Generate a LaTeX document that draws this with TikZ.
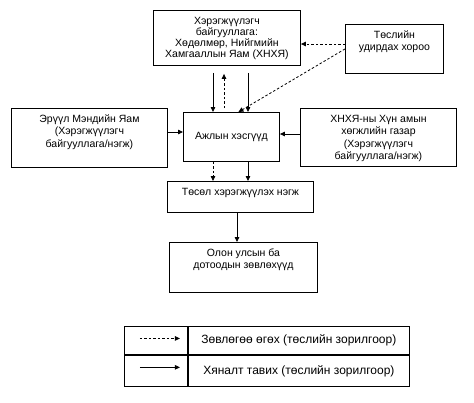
\documentclass[tikz,border=0pt]{standalone}
\usepackage{fontspec}
\setmainfont{Liberation Sans}
\usetikzlibrary{arrows.meta,calc}

\tikzset{
  unitbox/.style={draw,line width=0.9pt,inner sep=0pt,anchor=north west,font=\fontsize{10.5}{12.5}\selectfont},
  ctl/.style={line width=0.8pt,-{Triangle[length=5pt,width=4.5pt]}},
  adv/.style={ctl,dash pattern=on 2.5pt off 2pt},
  keytext/.style={font=\fontsize{12}{14}\selectfont},
}
\newcommand{\toptext}[3]{\parbox[c][#2][t]{#1}{\centering\rule{0pt}{14pt}#3}}

\begin{document}
\begin{tikzpicture}[x=1pt,y=-1pt]
\useasboundingbox (0,0) rectangle (474,402);

% boxes
\node[unitbox,font=\fontsize{10.5}{11}\selectfont] (org) at (153,10) {\toptext{147pt}{55pt}{Хэрэгжүүлэгч\\байгууллага:\\Хөдөлмөр, Нийгмийн\\Хамгааллын Яам (ХНХЯ)}};
\node[unitbox] (cttee) at (345,24) {\toptext{98pt}{49pt}{Төслийн\\удирдах хороо}};
\node[unitbox] (health) at (11,108) {\toptext{156pt}{59pt}{Эрүүл Мэндийн Яам\\(Хэрэгжүүлэгч\\байгууллага/нэгж)}};
\node[unitbox,minimum width=96pt,minimum height=49pt] (work) at (183,112) {Ажлын хэсгүүд};
\node[unitbox] (popdev) at (300,108) {\toptext{156pt}{58pt}{ХНХЯ-ны Хүн амын\\хөгжлийн газар\\(Хэрэгжүүлэгч\\байгууллага/нэгж)}};
\node[unitbox] (piu) at (167,181) {\toptext{146pt}{31pt}{Төсөл хэрэгжүүлэх нэгж}};
\node[unitbox] (advis) at (169,242) {\toptext{148pt}{50pt}{Олон улсын ба\\дотоодын зөвлөхүүд}};

\coordinate (colA) at (213,0);
\coordinate (colB) at (224,0);
\coordinate (colC) at (248,0);
\coordinate (colD) at (237,0);
\coordinate (rowT) at (0,44);
\coordinate (rowL) at (0,132);
\coordinate (rowR) at (0,134);

% arrows
\draw[ctl,shorten <=7pt] (org.south -| colA) -- (work.north -| colA);
\draw[adv,shorten <=4pt,shorten >=8pt] (work.north -| colB) -- (org.south -| colB);
\draw[ctl,shorten <=7pt] (org.south -| colC) -- (work.north -| colC);
\draw[adv] (cttee.west |- rowT) -- (org.east |- rowT);
\draw[adv] (cttee.west) -- ([xshift=7pt]work.north);
\draw[ctl] (health.east |- rowL) -- (work.west |- rowL);
\draw[ctl] (popdev.west |- rowR) -- (work.east |- rowR);
\draw[adv] (work.south -| colA) -- (piu.north -| colA);
\draw[ctl] (work.south -| colC) -- (piu.north -| colC);
\draw[ctl] (piu.south -| colD) -- (advis.north -| colD);

% legend
\node[unitbox,minimum width=63pt,minimum height=28pt] (keyadv) at (124,326) {};
\node[unitbox,keytext,minimum width=221pt,minimum height=28pt] (txtadv) at (keyadv.north east) {Зөвлөгөө өгөх (төслийн зорилгоор)};
\node[unitbox,minimum width=63pt,minimum height=31pt] (keyctl) at (keyadv.south west) {};
\node[unitbox,keytext,minimum width=221pt,minimum height=31pt] (txtctl) at (keyctl.north east) {Хяналт тавих (төслийн зорилгоор)};
\draw[adv] ([xshift=-16pt,yshift=2pt]keyadv.center) -- ([xshift=24pt,yshift=2pt]keyadv.center);
\draw[ctl] ([xshift=-16pt,yshift=3.5pt]keyctl.center) -- ([xshift=24pt,yshift=3.5pt]keyctl.center);

\end{tikzpicture}
\end{document}
